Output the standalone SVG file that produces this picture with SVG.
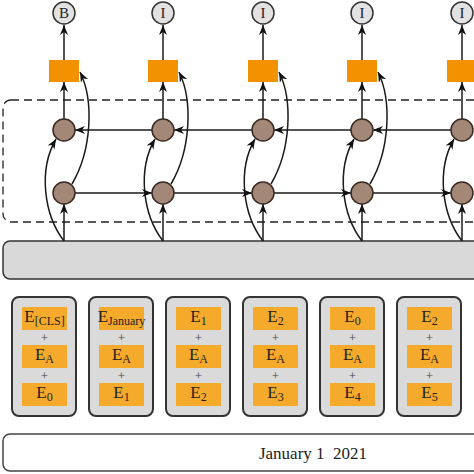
<svg xmlns="http://www.w3.org/2000/svg" width="474" height="474" viewBox="0 0 474 474">
<defs>
<style>
.conn{fill:none;stroke:#1a1a1a;stroke-width:1.5}
.out{fill:#e2e2e2;stroke:#333;stroke-width:1.5}
.lab{font-family:"Liberation Serif",serif;font-size:15px;fill:#222;text-anchor:middle}
.dense{fill:#f39200}
.lstm{fill:#a38878;stroke:#3a2a22;stroke-width:1.5}
.emb{fill:#dadada;stroke:#333;stroke-width:2}
.tok{fill:#f6aa2c}
.et{font-family:"Liberation Serif",serif;font-size:17px;fill:#222;text-anchor:middle}
.plus{font-family:"Liberation Serif",serif;font-size:13px;fill:#444;text-anchor:middle}
</style>
<marker id="ah" markerUnits="userSpaceOnUse" markerWidth="10" markerHeight="8" refX="10" refY="4" orient="auto">
<path d="M0,0 L10,4 L0,8 L3,4 z" fill="#111"/>
</marker>
</defs>
<rect x="0" y="0" width="474" height="474" fill="#fff"/>
<g id="bilstm-frame">
<rect x="3" y="100" width="500" height="122" rx="8" fill="none" stroke="#222" stroke-width="1.3" stroke-dasharray="8,5"/>
</g>
<g id="encoder-bar">
<rect x="3" y="241" width="500" height="38" rx="7" fill="#d9d9d9" stroke="#333" stroke-width="1.5"/>
</g>
<g id="input-text">
<rect x="3" y="434" width="500" height="37" rx="7" fill="#fff" stroke="#444" stroke-width="1.5"/>
<text x="313" y="459" xml:space="preserve" style="font-family:'Liberation Serif',serif;font-size:17px;fill:#222;text-anchor:middle">January 1  2021</text>
</g>
<g id="connectors">
<path class="conn" marker-end="url(#ah)" d="M64,241 L64,204"/>
<path class="conn" marker-end="url(#ah)" d="M64,119 L64,82"/>
<path class="conn" marker-end="url(#ah)" d="M64,60 L64,25"/>
<path class="conn" marker-end="url(#ah)" d="M64,241 C44,215 38,170 56,139"/>
<path class="conn" marker-end="url(#ah)" d="M72,184 C92,150 94,100 80,72"/>
<path class="conn" marker-end="url(#ah)" d="M163,241 L163,204"/>
<path class="conn" marker-end="url(#ah)" d="M163,119 L163,82"/>
<path class="conn" marker-end="url(#ah)" d="M163,60 L163,25"/>
<path class="conn" marker-end="url(#ah)" d="M163,241 C143,215 137,170 155,139"/>
<path class="conn" marker-end="url(#ah)" d="M171,184 C191,150 193,100 179,72"/>
<path class="conn" marker-end="url(#ah)" d="M263,241 L263,204"/>
<path class="conn" marker-end="url(#ah)" d="M263,119 L263,82"/>
<path class="conn" marker-end="url(#ah)" d="M263,60 L263,25"/>
<path class="conn" marker-end="url(#ah)" d="M263,241 C243,215 237,170 255,139"/>
<path class="conn" marker-end="url(#ah)" d="M271,184 C291,150 293,100 279,72"/>
<path class="conn" marker-end="url(#ah)" d="M362,241 L362,204"/>
<path class="conn" marker-end="url(#ah)" d="M362,119 L362,82"/>
<path class="conn" marker-end="url(#ah)" d="M362,60 L362,25"/>
<path class="conn" marker-end="url(#ah)" d="M362,241 C342,215 336,170 354,139"/>
<path class="conn" marker-end="url(#ah)" d="M370,184 C390,150 392,100 378,72"/>
<path class="conn" marker-end="url(#ah)" d="M462,241 L462,204"/>
<path class="conn" marker-end="url(#ah)" d="M462,119 L462,82"/>
<path class="conn" marker-end="url(#ah)" d="M462,60 L462,25"/>
<path class="conn" marker-end="url(#ah)" d="M462,241 C442,215 436,170 454,139"/>
<path class="conn" marker-end="url(#ah)" d="M152,130 L75,130"/>
<path class="conn" marker-end="url(#ah)" d="M252,130 L174,130"/>
<path class="conn" marker-end="url(#ah)" d="M351,130 L274,130"/>
<path class="conn" marker-end="url(#ah)" d="M451,130 L373,130"/>
<path class="conn" marker-end="url(#ah)" d="M75,193 L152,193"/>
<path class="conn" marker-end="url(#ah)" d="M174,193 L252,193"/>
<path class="conn" marker-end="url(#ah)" d="M274,193 L351,193"/>
<path class="conn" marker-end="url(#ah)" d="M373,193 L451,193"/>
</g>
<g id="tag-1"><circle class="out" cx="64" cy="13" r="11"/><text class="lab" x="64" y="18">B</text></g>
<g id="tag-2"><circle class="out" cx="163" cy="13" r="11"/><text class="lab" x="163" y="18">I</text></g>
<g id="tag-3"><circle class="out" cx="263" cy="13" r="11"/><text class="lab" x="263" y="18">I</text></g>
<g id="tag-4"><circle class="out" cx="362" cy="13" r="11"/><text class="lab" x="362" y="18">I</text></g>
<g id="tag-5"><circle class="out" cx="462" cy="13" r="11"/><text class="lab" x="462" y="18">I</text></g>
<g id="dense-1"><rect class="dense" x="49" y="60" width="30" height="22"/></g>
<g id="dense-2"><rect class="dense" x="148" y="60" width="30" height="22"/></g>
<g id="dense-3"><rect class="dense" x="248" y="60" width="30" height="22"/></g>
<g id="dense-4"><rect class="dense" x="347" y="60" width="30" height="22"/></g>
<g id="dense-5"><rect class="dense" x="447" y="60" width="30" height="22"/></g>
<g id="bwd-1"><circle class="lstm" cx="64" cy="130" r="11"/></g>
<g id="bwd-2"><circle class="lstm" cx="163" cy="130" r="11"/></g>
<g id="bwd-3"><circle class="lstm" cx="263" cy="130" r="11"/></g>
<g id="bwd-4"><circle class="lstm" cx="362" cy="130" r="11"/></g>
<g id="bwd-5"><circle class="lstm" cx="462" cy="130" r="11"/></g>
<g id="fwd-1"><circle class="lstm" cx="64" cy="193" r="11"/></g>
<g id="fwd-2"><circle class="lstm" cx="163" cy="193" r="11"/></g>
<g id="fwd-3"><circle class="lstm" cx="263" cy="193" r="11"/></g>
<g id="fwd-4"><circle class="lstm" cx="362" cy="193" r="11"/></g>
<g id="fwd-5"><circle class="lstm" cx="462" cy="193" r="11"/></g>
<g id="emb-1">
<rect class="emb" x="12" y="297" width="64" height="119" rx="7"/>
<rect class="tok" x="22" y="307" width="45" height="23"/><rect class="tok" x="22" y="345" width="45" height="23"/><rect class="tok" x="22" y="383" width="45" height="23"/>
<text class="et" x="44.5" y="322">E<tspan font-size="12" dy="3">[CLS]</tspan></text>
<text class="plus" x="44.5" y="342">+</text>
<text class="et" x="44.5" y="360">E<tspan font-size="12" dy="3">A</tspan></text>
<text class="plus" x="44.5" y="380">+</text>
<text class="et" x="44.5" y="398">E<tspan font-size="12" dy="3">0</tspan></text>
</g>
<g id="emb-2">
<rect class="emb" x="89" y="297" width="64" height="119" rx="7"/>
<rect class="tok" x="99" y="307" width="45" height="23"/><rect class="tok" x="99" y="345" width="45" height="23"/><rect class="tok" x="99" y="383" width="45" height="23"/>
<text class="et" x="121.5" y="322">E<tspan font-size="12" dy="3">January</tspan></text>
<text class="plus" x="121.5" y="342">+</text>
<text class="et" x="121.5" y="360">E<tspan font-size="12" dy="3">A</tspan></text>
<text class="plus" x="121.5" y="380">+</text>
<text class="et" x="121.5" y="398">E<tspan font-size="12" dy="3">1</tspan></text>
</g>
<g id="emb-3">
<rect class="emb" x="166" y="297" width="64" height="119" rx="7"/>
<rect class="tok" x="176" y="307" width="45" height="23"/><rect class="tok" x="176" y="345" width="45" height="23"/><rect class="tok" x="176" y="383" width="45" height="23"/>
<text class="et" x="198.5" y="322">E<tspan font-size="12" dy="3">1</tspan></text>
<text class="plus" x="198.5" y="342">+</text>
<text class="et" x="198.5" y="360">E<tspan font-size="12" dy="3">A</tspan></text>
<text class="plus" x="198.5" y="380">+</text>
<text class="et" x="198.5" y="398">E<tspan font-size="12" dy="3">2</tspan></text>
</g>
<g id="emb-4">
<rect class="emb" x="243" y="297" width="64" height="119" rx="7"/>
<rect class="tok" x="253" y="307" width="45" height="23"/><rect class="tok" x="253" y="345" width="45" height="23"/><rect class="tok" x="253" y="383" width="45" height="23"/>
<text class="et" x="275.5" y="322">E<tspan font-size="12" dy="3">2</tspan></text>
<text class="plus" x="275.5" y="342">+</text>
<text class="et" x="275.5" y="360">E<tspan font-size="12" dy="3">A</tspan></text>
<text class="plus" x="275.5" y="380">+</text>
<text class="et" x="275.5" y="398">E<tspan font-size="12" dy="3">3</tspan></text>
</g>
<g id="emb-5">
<rect class="emb" x="320" y="297" width="64" height="119" rx="7"/>
<rect class="tok" x="330" y="307" width="45" height="23"/><rect class="tok" x="330" y="345" width="45" height="23"/><rect class="tok" x="330" y="383" width="45" height="23"/>
<text class="et" x="352.5" y="322">E<tspan font-size="12" dy="3">0</tspan></text>
<text class="plus" x="352.5" y="342">+</text>
<text class="et" x="352.5" y="360">E<tspan font-size="12" dy="3">A</tspan></text>
<text class="plus" x="352.5" y="380">+</text>
<text class="et" x="352.5" y="398">E<tspan font-size="12" dy="3">4</tspan></text>
</g>
<g id="emb-6">
<rect class="emb" x="397" y="297" width="64" height="119" rx="7"/>
<rect class="tok" x="407" y="307" width="45" height="23"/><rect class="tok" x="407" y="345" width="45" height="23"/><rect class="tok" x="407" y="383" width="45" height="23"/>
<text class="et" x="429.5" y="322">E<tspan font-size="12" dy="3">2</tspan></text>
<text class="plus" x="429.5" y="342">+</text>
<text class="et" x="429.5" y="360">E<tspan font-size="12" dy="3">A</tspan></text>
<text class="plus" x="429.5" y="380">+</text>
<text class="et" x="429.5" y="398">E<tspan font-size="12" dy="3">5</tspan></text>
</g>
</svg>
